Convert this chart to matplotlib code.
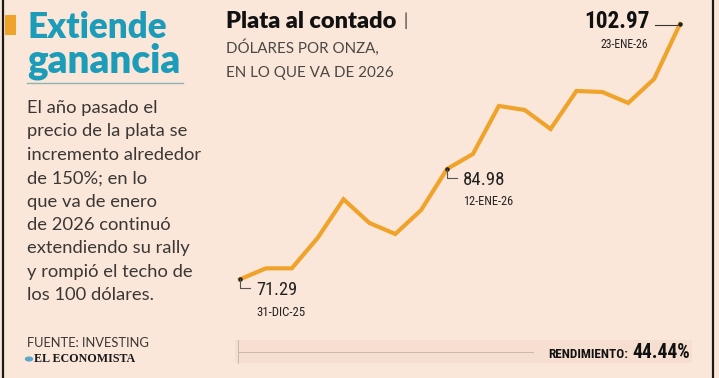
import matplotlib
matplotlib.use("Agg")
import matplotlib.pyplot as plt
from matplotlib.patches import Rectangle, Circle
from matplotlib.lines import Line2D
from matplotlib import font_manager

W, H = 719, 378
BG = "#FBE7DA"
ORANGE = "#F0A32B"
TEAL = "#1C9CB8"
INK = "#3a3735"

# ---- data ----
dates = ["31-DIC-25", "01-ENE-26", "02-ENE-26", "05-ENE-26", "06-ENE-26", "07-ENE-26",
         "08-ENE-26", "09-ENE-26", "12-ENE-26", "13-ENE-26", "14-ENE-26", "15-ENE-26",
         "16-ENE-26", "19-ENE-26", "20-ENE-26", "21-ENE-26", "22-ENE-26", "23-ENE-26"]
prices = [71.29, 72.65, 72.65, 76.42, 81.22, 78.28, 76.91, 79.89, 84.98,
          86.84, 92.80, 92.30, 89.94, 94.66, 94.53, 93.17, 96.15, 102.97]
labeled = [0, 8, 17]
rendimiento = "44.44%"

names = {f.name for f in font_manager.fontManager.ttflist}
narrow = "DejaVu Sans"
for cand in ["Liberation Sans Narrow", "Roboto Condensed", "Open Sans Condensed",
             "DejaVu Sans Condensed"]:
    if cand in names:
        narrow = cand
        break
body = "Lato" if "Lato" in names else "DejaVu Sans"

fig = plt.figure(figsize=(W / 100, H / 100), dpi=100, facecolor=BG)
renderer = fig.canvas.get_renderer()


def fx(x):
    return x / W


def fy(y):
    return 1 - y / H


def fit(x, y, s, width, ha="left", **kw):
    t = fig.text(fx(x), fy(y), s, fontsize=10, va="center", ha=ha, **kw)
    w = t.get_window_extent(renderer).width
    t.set_fontsize(10 * width / w)
    return t


# frame lines
fig.add_artist(Line2D([fx(3), fx(3)], [0, 1], color="#1a1a1a", lw=1.6))
fig.add_artist(Line2D([fx(713), fx(713)], [0, 1], color="#1a1a1a", lw=1.6))
# orange accent
fig.add_artist(Rectangle((fx(5), fy(35)), fx(11), 20 / H, color=ORANGE, lw=0))

# left title
fit(27, 27, "Extiende", 140, color=TEAL, fontweight="heavy", family=body)
fit(27, 61, "ganancia", 153, color=TEAL, fontweight="heavy", family=body)
fig.add_artist(Line2D([fx(27), fx(183)], [fy(83), fy(83)], color="#8fb3b5", lw=1.0))

body_lines = ["El año pasado el", "precio de la plata se", "incremento alrededor",
              "de 150%; en lo", "que va de enero", "de 2026 continuó",
              "extendiendo su rally", "y rompió el techo de", "los 100 dólares."]
ref = fit(27, 0, body_lines[2], 175, family=body)
bsize = ref.get_fontsize()
ref.remove()
for i, t in enumerate(body_lines):
    fig.text(fx(27), fy(108 + i * 23.4), t, color=INK, fontsize=bsize,
             family=body, va="center", ha="left")

fit(27, 343, "FUENTE: INVESTING", 121, color=INK, family=body)
fig.add_artist(Circle((fx(29), fy(359)), 3.5 / W, color="#5aa6c8", transform=fig.transFigure))
fit(34, 359, "EL ECONOMISTA", 101, color="#1a1a1a", family="Liberation Serif",
    fontweight="bold")

# chart title
fit(226, 21, "Plata al contado", 171, color="#111111", fontweight="heavy", family=body)
fig.text(fx(403), fy(21), "|", color="#333333", fontsize=12, family=body,
         va="center", ha="left")
sub2 = fit(226, 73, "EN LO QUE VA DE 2026", 166, color="#4a4744", family=body)
fig.text(fx(226), fy(48), "DÓLARES POR ONZA,", color="#4a4744", family=body,
         fontsize=sub2.get_fontsize(), va="center", ha="left")

# axes for the line: x 240..680 px, y 24..279.3 px
x0, x1 = 240, 680
y_top, y_bot = 24, 279.3
ax = fig.add_axes([fx(x0), fy(y_bot), (x1 - x0) / W, (y_bot - y_top) / H])
ax.set_facecolor("none")
ax.axis("off")
xs = list(range(len(prices)))
ax.set_xlim(0, len(prices) - 1)
ax.set_ylim(prices[0], prices[-1])
ax.plot(xs, prices, color=ORANGE, lw=3.0, solid_joinstyle="miter", clip_on=False, zorder=2)
ax.scatter([xs[i] for i in labeled], [prices[i] for i in labeled], s=5, color="#222222",
           zorder=3, clip_on=False)


def data_to_px(i):
    xp = x0 + (x1 - x0) * i / (len(prices) - 1)
    yp = y_bot - (y_bot - y_top) * (prices[i] - prices[0]) / (prices[-1] - prices[0])
    return xp, yp


widths = {0: (41, 49), 8: (42, 50)}
for i in labeled[:2]:
    px, py = data_to_px(i)
    fig.add_artist(Line2D([fx(px), fx(px), fx(px + 10)], [fy(py), fy(py + 9), fy(py + 9)],
                          color="#555555", lw=0.8))
    fit(px + 16, py + 11, f"{prices[i]:.2f}", widths[i][0], color="#222222", family=narrow)
    fit(px + 16, py + 33, dates[i], widths[i][1], color="#222222", family=narrow)

px, py = data_to_px(labeled[2])
fig.add_artist(Line2D([fx(px - 25), fx(px - 3)], [fy(py + 1), fy(py + 1)],
                      color="#333333", lw=0.8))
fit(px - 30, py - 2, f"{prices[-1]:.2f}", 66, ha="right", color="#111111",
    fontweight="bold", family=narrow)
fit(px - 32, py + 20, dates[-1], 48, ha="right", color="#222222", family=narrow)

# bottom bar
fig.add_artist(Rectangle((fx(235), fy(363)), (692 - 235) / W, 23 / H,
                         color="#F6DFD0", lw=0))
fig.add_artist(Line2D([fx(238), fx(533)], [fy(352), fy(352)], color="#c9b8ac", lw=0.7))
fig.add_artist(Line2D([fx(238), fx(238)], [fy(340), fy(363)], color="#c9b8ac", lw=0.7))
fit(690, 353, rendimiento, 59, ha="right", color="#111111", fontweight="bold", family=narrow)
fit(628, 355, "RENDIMIENTO:", 80, ha="right", color="#111111", fontweight="bold",
    family=narrow)

fig.savefig("out.png", dpi=100, facecolor=BG)
